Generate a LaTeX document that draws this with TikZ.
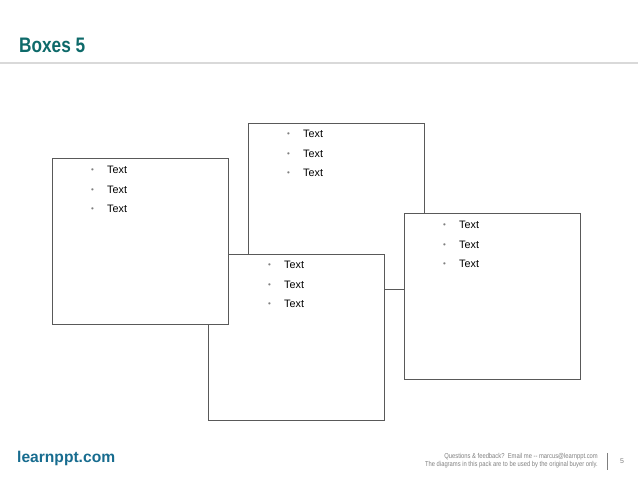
\documentclass[tikz,border=0pt]{standalone}
\usepackage{fontspec}
\setmainfont{Liberation Sans}
\newfontfamily\narrowfont[FakeStretch=0.82]{Liberation Sans}
\usetikzlibrary{positioning}
\definecolor{titleteal}{RGB}{14,106,106}
\definecolor{linkblue}{RGB}{23,108,143}
\definecolor{boxgray}{RGB}{89,89,89}
\definecolor{rulegray}{RGB}{217,217,217}
\definecolor{footgray}{RGB}{127,127,127}
\newcommand{\bul}{\makebox[16pt][l]{\raisebox{0.8pt}{\color{footgray}\fontsize{8}{8}\selectfont\textbullet}}}
\tikzset{every picture/.style={/utils/exec={\rmfamily}}}

\begin{document}
\begin{tikzpicture}[
	x=1pt, y=-1pt,
	box/.style={draw=boxgray, line width=0.9pt, fill=white, minimum width=176pt, minimum height=166pt, inner sep=0pt, anchor=north west},
	bullets/.style={align=left, inner sep=0pt, font=\fontsize{10.8}{19.5}\selectfont},
	foot/.style={text=footgray, inner sep=0pt},
	]
	\useasboundingbox (0,0) rectangle (638,478);

	%title
	\node[anchor=base west, inner sep=0pt, text=titleteal, font=\narrowfont\bfseries\fontsize{21}{24}\selectfont] (title) at (19,53) {Boxes 5};
	\coordinate (rl) at (0,63);
	\coordinate (rr) at (638,63);
	\draw[rulegray, line width=1.5pt] (rl) -- (rr);

	%boxes
	\node[box] (b) at (248,123) {};
	\node[box] (c) at (208,254) {};
	\node[box] (a) at (52,158) {};
	\node[box] (d) at (404,213) {};

	%texts
	\node[bullets, below right = 8pt and 39pt of a.north west] (ta) {\bul Text\\\bul Text\\\bul Text};
	\node[bullets, below right = 7pt and 39pt of b.north west] (tb) {\bul Text\\\bul Text\\\bul Text};
	\node[bullets, below right = 7pt and 60pt of c.north west] (tc) {\bul Text\\\bul Text\\\bul Text};
	\node[bullets, below right = 8pt and 39pt of d.north west] (td) {\bul Text\\\bul Text\\\bul Text};

	%footer
	\node[anchor=base west, inner sep=0pt, text=linkblue, font=\bfseries\fontsize{15.6}{18}\selectfont] (site) at (17,463) {learnppt.com};
	\node[foot, anchor=east, align=right, font=\narrowfont\fontsize{7.1}{8.2}\selectfont] (note) at (598,461) {Questions \& feedback?\ \ Email me -- marcus@learnppt.com\\The diagrams in this pack are to be used by the original buyer only.};
	\coordinate (st) at (607,453);
	\coordinate (sb) at (607,470);
	\draw[footgray, line width=0.6pt] (st) -- (sb);
	\node[foot, font=\fontsize{7}{8}\selectfont] (page) at (622,461) {5};

\end{tikzpicture}
\end{document}
